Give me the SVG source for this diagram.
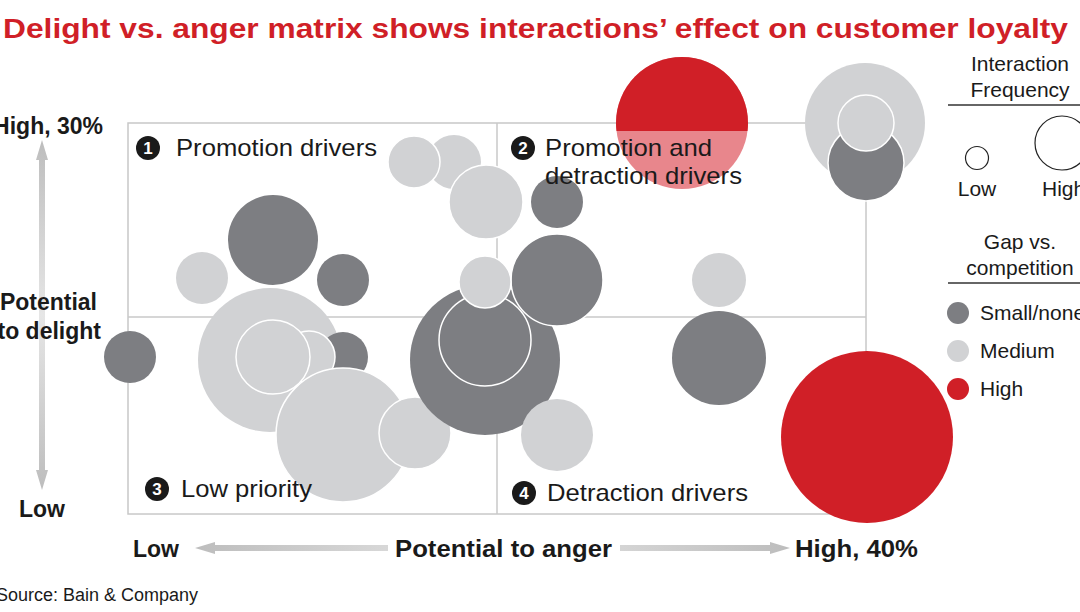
<svg xmlns="http://www.w3.org/2000/svg" width="1080" height="612" viewBox="0 0 1080 612">
<style>
text{font-family:"Liberation Sans",Arial,sans-serif;fill:#1a1a1a}
.d{fill:#7d7e82}.m{fill:#d1d2d4}.r{fill:#d01f27}
.w{stroke:#fff;stroke-width:1.5}
.q{font-size:24px}.b{font-weight:bold;font-size:23px}
.n{fill:#fff;font-weight:bold;font-size:17px;text-anchor:middle}
.g{font-size:21px}
</style>
<defs>
<linearGradient id="hg" x1="0" x2="1"><stop offset="0" stop-color="#bdbdbd"/><stop offset="0.5" stop-color="#e6e6e6"/><stop offset="1" stop-color="#bdbdbd"/></linearGradient>
<linearGradient id="vg" x1="0" y1="0" x2="0" y2="1"><stop offset="0" stop-color="#bdbdbd"/><stop offset="0.5" stop-color="#e6e6e6"/><stop offset="1" stop-color="#bdbdbd"/></linearGradient>
<clipPath id="top"><rect x="600" y="40" width="170" height="91"/></clipPath>
</defs>
<rect width="1080" height="612" fill="#fff"/>
<text x="3" y="38" font-size="28" font-weight="bold" textLength="1065" lengthAdjust="spacingAndGlyphs" style="fill:#d01f27">Delight vs. anger matrix shows interactions’ effect on customer loyalty</text>
<g id="frame" fill="none" stroke="#c8c8c8" stroke-width="1.5">
<rect x="128" y="123" width="738" height="391"/>
<line x1="497" y1="123" x2="497" y2="514"/>
<line x1="128" y1="317" x2="866" y2="317"/>
</g>
<g id="bubbles">
<circle class="m" cx="454" cy="162" r="27"/>
<circle class="m w" cx="486" cy="202" r="37"/>
<circle class="m w" cx="414" cy="162" r="26"/>
<circle class="d" cx="557" cy="202" r="26"/>
<circle class="d" cx="273" cy="240" r="45"/>
<circle class="m" cx="202" cy="278" r="26"/>
<circle class="d" cx="343" cy="280" r="26"/>
<circle class="m" cx="270" cy="360" r="72"/>
<circle class="d" cx="343" cy="357" r="25"/>
<circle class="m w" cx="309" cy="357" r="26"/>
<circle class="m w" cx="273" cy="357" r="37"/>
<circle class="m w" cx="343" cy="435" r="67"/>
<circle class="m w" cx="415" cy="433" r="36"/>
<circle class="d" cx="130" cy="357" r="26"/>
<circle class="d" cx="485" cy="360" r="75"/>
<circle class="d w" cx="485" cy="340" r="46"/>
<circle class="d w" cx="557" cy="280" r="46"/>
<circle class="m w" cx="485" cy="282" r="26"/>
<circle class="m" cx="557" cy="435" r="36"/>
<circle class="m" cx="719" cy="280" r="27"/>
<circle class="d" cx="719" cy="358" r="47"/>
<circle class="m" cx="865" cy="123" r="60"/>
<circle class="d w" cx="866" cy="163" r="38"/>
<circle class="m w" cx="866" cy="123" r="28"/>
<circle class="r" cx="867" cy="437" r="86"/>
<circle fill="#e8868c" cx="682" cy="123" r="66"/>
<circle class="r" cx="682" cy="123" r="66" clip-path="url(#top)"/>
</g>
<g id="quadrant-labels">
<circle cx="148" cy="148" r="12" fill="#1a1a1a"/><text class="n" x="148" y="154">1</text>
<text class="q" x="176" y="156" textLength="201" lengthAdjust="spacingAndGlyphs">Promotion drivers</text>
<circle cx="523" cy="148" r="12" fill="#1a1a1a"/><text class="n" x="523" y="154">2</text>
<text class="q" x="545" y="156" textLength="167" lengthAdjust="spacingAndGlyphs">Promotion and</text>
<text class="q" x="545" y="184" textLength="197" lengthAdjust="spacingAndGlyphs">detraction drivers</text>
<circle cx="157" cy="489" r="12" fill="#1a1a1a"/><text class="n" x="157" y="495">3</text>
<text class="q" x="181" y="497" textLength="131" lengthAdjust="spacingAndGlyphs">Low priority</text>
<circle cx="524" cy="493" r="12" fill="#1a1a1a"/><text class="n" x="524" y="499">4</text>
<text class="q" x="547" y="501" textLength="201" lengthAdjust="spacingAndGlyphs">Detraction drivers</text>
</g>
<g id="axes">
<path d="M36 160 L42 140 L48 160 L45 160 L45 470 L48 470 L42 490 L36 470 L39 470 L39 160 Z" fill="url(#vg)"/>
<path d="M215 542 L195 548 L215 554 L215 551 L770 551 L770 554 L790 548 L770 542 L770 545 L215 545 Z" fill="url(#hg)"/>
<text class="b" x="103" y="134" text-anchor="end">High, 30%</text>
<text class="b" x="97" y="310" text-anchor="end">Potential</text>
<text class="b" x="101" y="339" text-anchor="end">to delight</text>
<text class="b" x="42" y="517" text-anchor="middle">Low</text>
<text class="b" x="133" y="557">Low</text>
<rect x="388" y="536" width="232" height="26" fill="#fff"/>
<text class="b" x="395" y="557" textLength="217" lengthAdjust="spacingAndGlyphs">Potential to anger</text>
<text class="b" x="795" y="557" textLength="123" lengthAdjust="spacingAndGlyphs">High, 40%</text>
</g>
<g id="legend">
<text class="g" x="1020" y="71" text-anchor="middle">Interaction</text>
<text class="g" x="1020" y="97" text-anchor="middle">Frequency</text>
<line x1="948" y1="105" x2="1080" y2="105" stroke="#333" stroke-width="1.5"/>
<circle cx="977" cy="158" r="11.5" fill="none" stroke="#222" stroke-width="1.2"/>
<circle cx="1062" cy="143" r="27" fill="none" stroke="#222" stroke-width="1.2"/>
<text class="g" x="977" y="196" text-anchor="middle">Low</text>
<text class="g" x="1042" y="196">High</text>
<text class="g" x="1020" y="249" text-anchor="middle">Gap vs.</text>
<text class="g" x="1020" y="275" text-anchor="middle">competition</text>
<line x1="948" y1="283" x2="1080" y2="283" stroke="#333" stroke-width="1.5"/>
<circle class="d" cx="958" cy="313" r="11"/><text class="g" x="980" y="320">Small/none</text>
<circle class="m" cx="958" cy="351" r="11"/><text class="g" x="980" y="358">Medium</text>
<circle class="r" cx="958" cy="389" r="11"/><text class="g" x="980" y="396">High</text>
</g>
<text x="198" y="601" font-size="18" text-anchor="end">Source: Bain &amp; Company</text>
</svg>
